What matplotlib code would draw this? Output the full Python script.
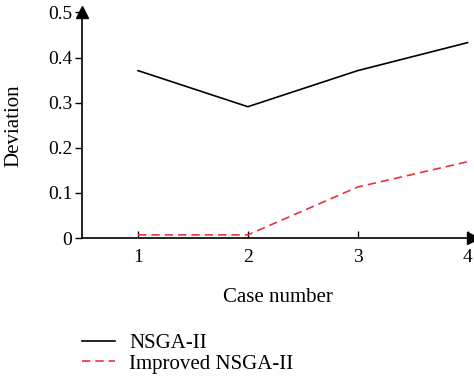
import matplotlib
matplotlib.use('Agg')
import matplotlib.pyplot as plt
import numpy as np

cases = [1, 2, 3, 4]
nsga2 = [0.371, 0.291, 0.371, 0.433]
improved = [0.007, 0.007, 0.113, 0.169]
yticks = [0, 0.1, 0.2, 0.3, 0.4, 0.5]
ytick_labels = ['0', '0.1', '0.2', '0.3', '0.4', '0.5']

plt.rcParams['font.family'] = ['Liberation Serif', 'DejaVu Serif']
fontsz = 14

fig = plt.figure(figsize=(4.74, 3.76), dpi=100)
ax = fig.add_axes([0.173, 0.367, 0.825, 0.600])

l1, = ax.plot(cases, nsga2, color='black', lw=1.2, label='NSGA-II')
l2, = ax.plot(cases, improved, color='#e8323c', lw=1.2, ls=(0, (5, 3)), label='Improved NSGA-II')

ax.set_xlim(0.49, 4.05)
ax.set_ylim(0, 0.5)
ax.set_xticks(cases)
ax.set_xticklabels([str(c) for c in cases], fontsize=fontsz)
ax.set_yticks(yticks)
ax.set_yticklabels(ytick_labels, fontsize=fontsz)
ax.tick_params(axis='x', direction='in', length=5, width=1, pad=8)
ax.tick_params(axis='y', direction='out', length=5, width=1, pad=2)
for s in ['top', 'right']:
    ax.spines[s].set_visible(False)
for s in ['left', 'bottom']:
    ax.spines[s].set_linewidth(1.2)

# axis arrows
ax.plot(0, 1, marker='^', color='black', ms=8, transform=ax.transAxes, clip_on=False)
ax.plot(1, 0, marker='>', color='black', ms=8, transform=ax.transAxes, clip_on=False)

ax.set_ylabel('Deviation', fontsize=fontsz + 1, labelpad=18)
ax.set_xlabel('Case number', fontsize=fontsz + 1, labelpad=16)

fig.legend(handles=[l1, l2], loc='upper left', bbox_to_anchor=(0.173, 0.113),
           frameon=False, fontsize=fontsz + 1, handlelength=1.6, handletextpad=0.65,
           labelspacing=0.05, borderaxespad=0, borderpad=0)

fig.savefig('out.png', dpi=100)
